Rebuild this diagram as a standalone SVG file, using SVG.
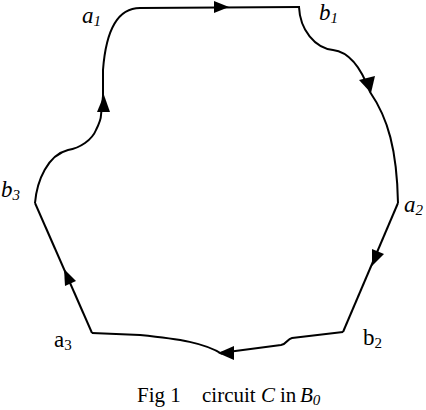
<svg xmlns="http://www.w3.org/2000/svg" width="426" height="410" viewBox="0 0 426 410">
<style>
.edge{fill:none;stroke:#000;stroke-width:2;stroke-linejoin:round}
.arr{fill:#000;stroke:none}
.lbl{font-family:"Liberation Serif","Times New Roman",serif;font-size:23px;fill:#000}
.it{font-style:italic}
.sub{font-size:15px}
.cap{font-family:"Liberation Serif","Times New Roman",serif;font-size:21px;fill:#000}
</style>
<rect width="426" height="410" fill="#fff"/>
<g id="connectors">
  <path class="edge" d="M103,96 L103,70 C106,30 118,8 140,8 L300,7"/>
  <path class="edge" d="M299,7 C300,30 315,48 333,50 C350,52 362,70 370,92 C388,118 397,150 398,203"/>
  <path class="edge" d="M398,203 L343,332"/>
  <path class="edge" d="M343,332 L292,338 C287,339 287,344 281,345 L220,353"/>
  <path class="edge" d="M222,354 C205,343 180,339 140,335 L92,333"/>
  <path class="edge" d="M92,333 L35,203"/>
  <path class="edge" d="M35,203 C37,180 48,155 68,150 C80,148 92,140 96,130 C99,124 101,120 101,115 L103,96"/>
  <polygon class="arr" points="229,7 214,1 214,13"/>
  <polygon class="arr" points="371,93 359,80 375,76"/>
  <polygon class="arr" points="372,266 372,249 384,254"/>
  <polygon class="arr" points="218,353 234,346 234,360"/>
  <polygon class="arr" points="64,269 65,286 76,281"/>
  <polygon class="arr" points="104,95 97,112 110,112"/>
</g>
<g id="a1"><text class="lbl it" x="82" y="23">a<tspan class="sub" dy="3">1</tspan></text></g>
<g id="b1"><text class="lbl it" x="319" y="20">b<tspan class="sub" dy="3">1</tspan></text></g>
<g id="a2"><text class="lbl it" x="404" y="212">a<tspan class="sub" dy="3">2</tspan></text></g>
<g id="b2"><text class="lbl" x="363" y="345">b<tspan class="sub" dy="3">2</tspan></text></g>
<g id="a3"><text class="lbl" x="54" y="347">a<tspan class="sub" dy="3">3</tspan></text></g>
<g id="b3"><text class="lbl it" x="1" y="197">b<tspan class="sub" dy="3">3</tspan></text></g>
<g id="caption">
  <text class="cap" x="137" y="402">Fig 1</text>
  <text class="cap" x="202" y="402">circuit</text>
  <text class="cap it" x="261" y="402">C</text>
  <text class="cap" x="280" y="402">in</text>
  <text class="cap it" x="300" y="402">B<tspan class="sub" dy="3">0</tspan></text>
</g>
</svg>
